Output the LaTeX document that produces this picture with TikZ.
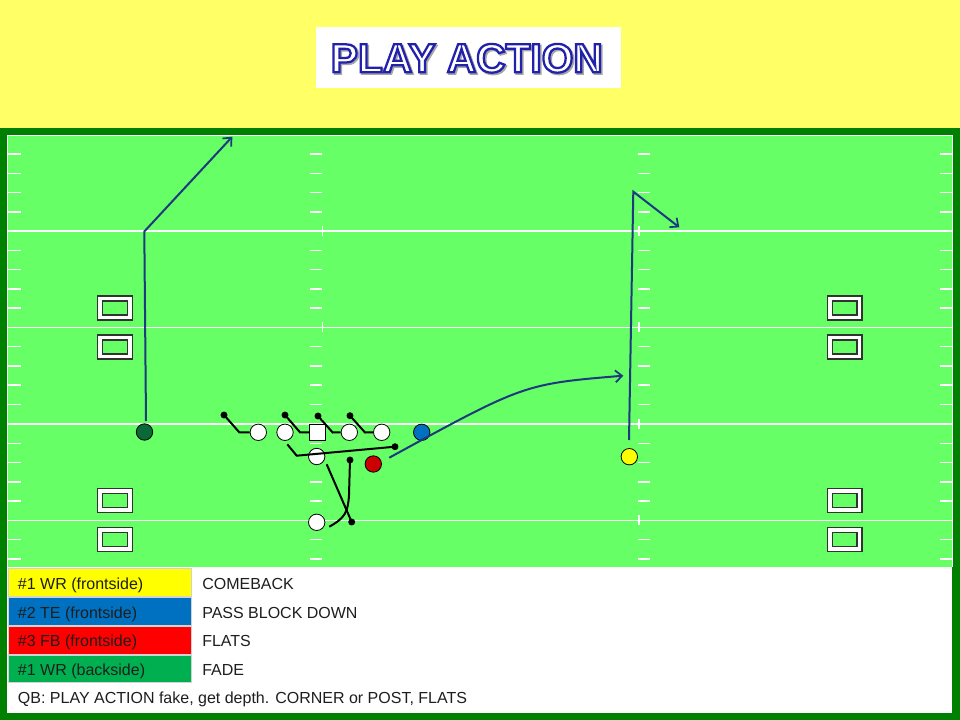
\documentclass[tikz,border=0pt]{standalone}
\usepackage{fontspec}
\setmainfont{Liberation Sans}
\usetikzlibrary{arrows.meta}
\definecolor{topyellow}{RGB}{255,255,102}
\definecolor{framegreen}{RGB}{0,128,0}
\definecolor{fieldgreen}{RGB}{102,255,102}
\definecolor{routeblue}{RGB}{28,58,125}
\definecolor{titleblue}{RGB}{34,34,170}
\definecolor{pgreen}{RGB}{10,105,55}
\definecolor{pblue}{RGB}{0,112,192}
\definecolor{pred}{RGB}{204,0,0}
\definecolor{lyellow}{RGB}{255,255,0}
\definecolor{lblue}{RGB}{0,112,192}
\definecolor{lred}{RGB}{255,0,0}
\definecolor{lgreen}{RGB}{0,176,80}
\definecolor{txtgray}{RGB}{30,30,30}
\definecolor{boxgray}{RGB}{50,50,50}
\newcommand\outlinedtitle[1]{\special{pdf:literal direct 2 Tr 1.7 w 0.13 0.13 0.67 RG 1 1 1 rg}#1\special{pdf:literal direct 0 Tr 0 g 0 G}}
\newcommand\shadowtitle[1]{\special{pdf:literal direct 2 Tr 1.7 w 0.65 0.65 0.65 RG 0.65 0.65 0.65 rg}#1\special{pdf:literal direct 0 Tr 0 g 0 G}}
\begin{document}
\begin{tikzpicture}[x=0.75pt,y=-0.75pt,
  player/.style={circle,draw=black,line width=0.6pt,minimum size=12.3pt,inner sep=0pt},
  center/.style={rectangle,draw=black,line width=0.6pt,fill=white,minimum size=12pt,inner sep=0pt},
  blockdot/.style={circle,fill=black,minimum size=5.2pt,inner sep=0pt},
  blockline/.style={draw=black,line width=1.5pt},
  route/.style={draw=routeblue,line width=1.5pt},
  routearrow/.style={route,-{Straight Barb[length=5pt,width=9pt,line width=1.3pt]}},
  yardline/.style={draw=white,line width=1.1pt},
  hash/.style={draw=white,line width=1.1pt},
  numbox/.style={draw=boxgray,line width=1.1pt},
  cell/.style={draw=gray!35,line width=0.5pt},
  legtext/.style={anchor=base west,inner sep=0pt,font=\fontsize{12pt}{14pt}\selectfont,text=txtgray},
  titletext/.style={inner sep=0pt,anchor=base,font=\fontsize{30.5pt}{34pt}\selectfont\bfseries}
]
\useasboundingbox (0,0) rectangle (960,720);
% backgrounds
\fill[topyellow] (0,0) rectangle (960,128);
\fill[framegreen] (0,128) rectangle (960,720);
\fill[fieldgreen] (7,135) rectangle (953,567);
\fill[white] (7,567) rectangle (952,713);
\draw[white,line width=0.8pt] (7.4,567) -- (7.4,135.4) -- (952.2,135.4) -- (952.2,567);
% yard lines and ticks
\foreach \yl in {231,327.3,424,520.3} {
  \draw[yardline] (7,\yl) -- (953,\yl);
  \draw[hash] (322.5,\yl-5) -- (322.5,\yl+5);
  \draw[hash] (639,\yl-5) -- (639,\yl+5);
}
% hash marks
\foreach \b in {134.7,231,327.3,424} {
  \foreach \k in {1,...,4} {
    \pgfmathsetmacro\yy{\b+\k*19.27}
    \draw[hash] (8,\yy) -- (21,\yy);
    \draw[hash] (310,\yy) -- (322,\yy);
    \draw[hash] (638,\yy) -- (650,\yy);
    \draw[hash] (940,\yy) -- (952,\yy);
  }
}
\foreach \yy in {539.6,558.9} {
  \draw[hash] (8,\yy) -- (21,\yy);
  \draw[hash] (310,\yy) -- (322,\yy);
  \draw[hash] (638,\yy) -- (650,\yy);
  \draw[hash] (940,\yy) -- (952,\yy);
}
% number boxes
\foreach \bx in {97.7,827.3} {
  \foreach \by in {296,335,488.7,527.7} {
    \draw[numbox,fill=white] (\bx,\by) rectangle (\bx+34.6,\by+24);
    \draw[numbox,fill=fieldgreen] (\bx+5,\by+5) rectangle (\bx+29.6,\by+19);
  }
}
% title
\fill[white] (316,27.3) rectangle (621,87.7);
\node[titletext] (titleshadow) at (468.3,73.8) {\shadowtitle{PLAY ACTION}};
\node[titletext] (title) at (466.8,72.3) {\outlinedtitle{PLAY ACTION}};
% players
\node[player,fill=pgreen] (wrb) at (144.5,432) {};
\node[player,fill=white] (l1) at (258.3,432.3) {};
\node[player,fill=white] (l2) at (285,432.3) {};
\node[center] (c) at (317.3,432.3) {};
\node[player,fill=white] (l4) at (349.3,432.3) {};
\node[player,fill=white] (l5) at (381.7,432.3) {};
\node[player,fill=pblue] (te) at (421.7,432.3) {};
\node[player,fill=white] (qb) at (316.7,456.5) {};
\node[player,fill=pred] (fb) at (373.3,464) {};
\node[player,fill=white] (rb) at (316.7,522.3) {};
\node[player,fill=lyellow] (wrf) at (629.3,456.7) {};
% block dots
\node[blockdot] (d1) at (224,415) {};
\node[blockdot] (d2) at (285,415) {};
\node[blockdot] (d3) at (318,416) {};
\node[blockdot] (d4) at (350,415.7) {};
\node[blockdot] (d5) at (395,446.7) {};
\node[blockdot] (d6) at (350,460) {};
\node[blockdot] (d7) at (351.7,522) {};
% block lines
\draw[blockline] (d1.center) -- (239.3,432.3) -- (l1.west);
\draw[blockline] (d2.center) -- (300,432.3) -- (c.west);
\draw[blockline] (d3.center) -- (332.7,432.5) -- (l4.west);
\draw[blockline] (d4.center) -- (365,432.5) -- (l5.west);
\coordinate (qbs) at (287.3,444.3);
\coordinate (qbk) at (296.7,455.7);
\draw[blockline] (qbs) -- (qbk) -- (d5.center);
\coordinate (qbd) at (326.7,464.3);
\draw[blockline] (qbd) -- (d7.center);
\coordinate (rbs) at (329.3,526.7);
\draw[blockline] (rbs) .. controls (345,518) and (348,512) .. (349,495) -- (d6.center);
% routes
\coordinate (wrbs) at (146,421);
\coordinate (wrbk) at (144.3,231.5);
\coordinate (wrbe) at (232.3,136.7);
\draw[routearrow] (wrbs) -- (wrbk) -- (wrbe);
\coordinate (wrfs) at (629,440);
\coordinate (wrfk) at (633.3,191.7);
\coordinate (wrfe) at (679.3,227.3);
\draw[routearrow] (wrfs) -- (wrfk) -- (wrfe);
\coordinate (tes) at (389.3,457.7);
\coordinate (tee) at (623.3,375.7);
\draw[routearrow] (tes) .. controls (524,384) .. (tee);
% legend
\fill[lyellow] (8.3,568.3) rectangle (191.7,596.7);
\draw[cell] (8.3,568.3) rectangle (191.7,596.7);
\fill[lblue] (8.3,597.7) rectangle (191.7,625.2);
\draw[cell] (8.3,597.7) rectangle (191.7,625.2);
\fill[lred] (8.3,626.2) rectangle (191.7,653.9);
\draw[cell] (8.3,626.2) rectangle (191.7,653.9);
\fill[lgreen] (8.3,654.9) rectangle (191.7,682.7);
\draw[cell] (8.3,654.9) rectangle (191.7,682.7);
\node[legtext] (k1) at (17.7,589.3) {\#1 WR (frontside)};
\node[legtext] (k2) at (17.7,618.3) {\#2 TE (frontside)};
\node[legtext] (k3) at (17.7,646.7) {\#3 FB (frontside)};
\node[legtext] (k4) at (17.7,675) {\#1 WR (backside)};
\node[legtext] (v1) at (202,589.3) {COMEBACK};
\node[legtext] (v2) at (202,618.3) {PASS BLOCK DOWN};
\node[legtext] (v3) at (202,646.7) {FLATS};
\node[legtext] (v4) at (202,675) {FADE};
\node[legtext] (qbnote) at (17.7,703.3) {QB: PLAY ACTION fake, get depth. CORNER or POST, FLATS};
\end{tikzpicture}
\end{document}
